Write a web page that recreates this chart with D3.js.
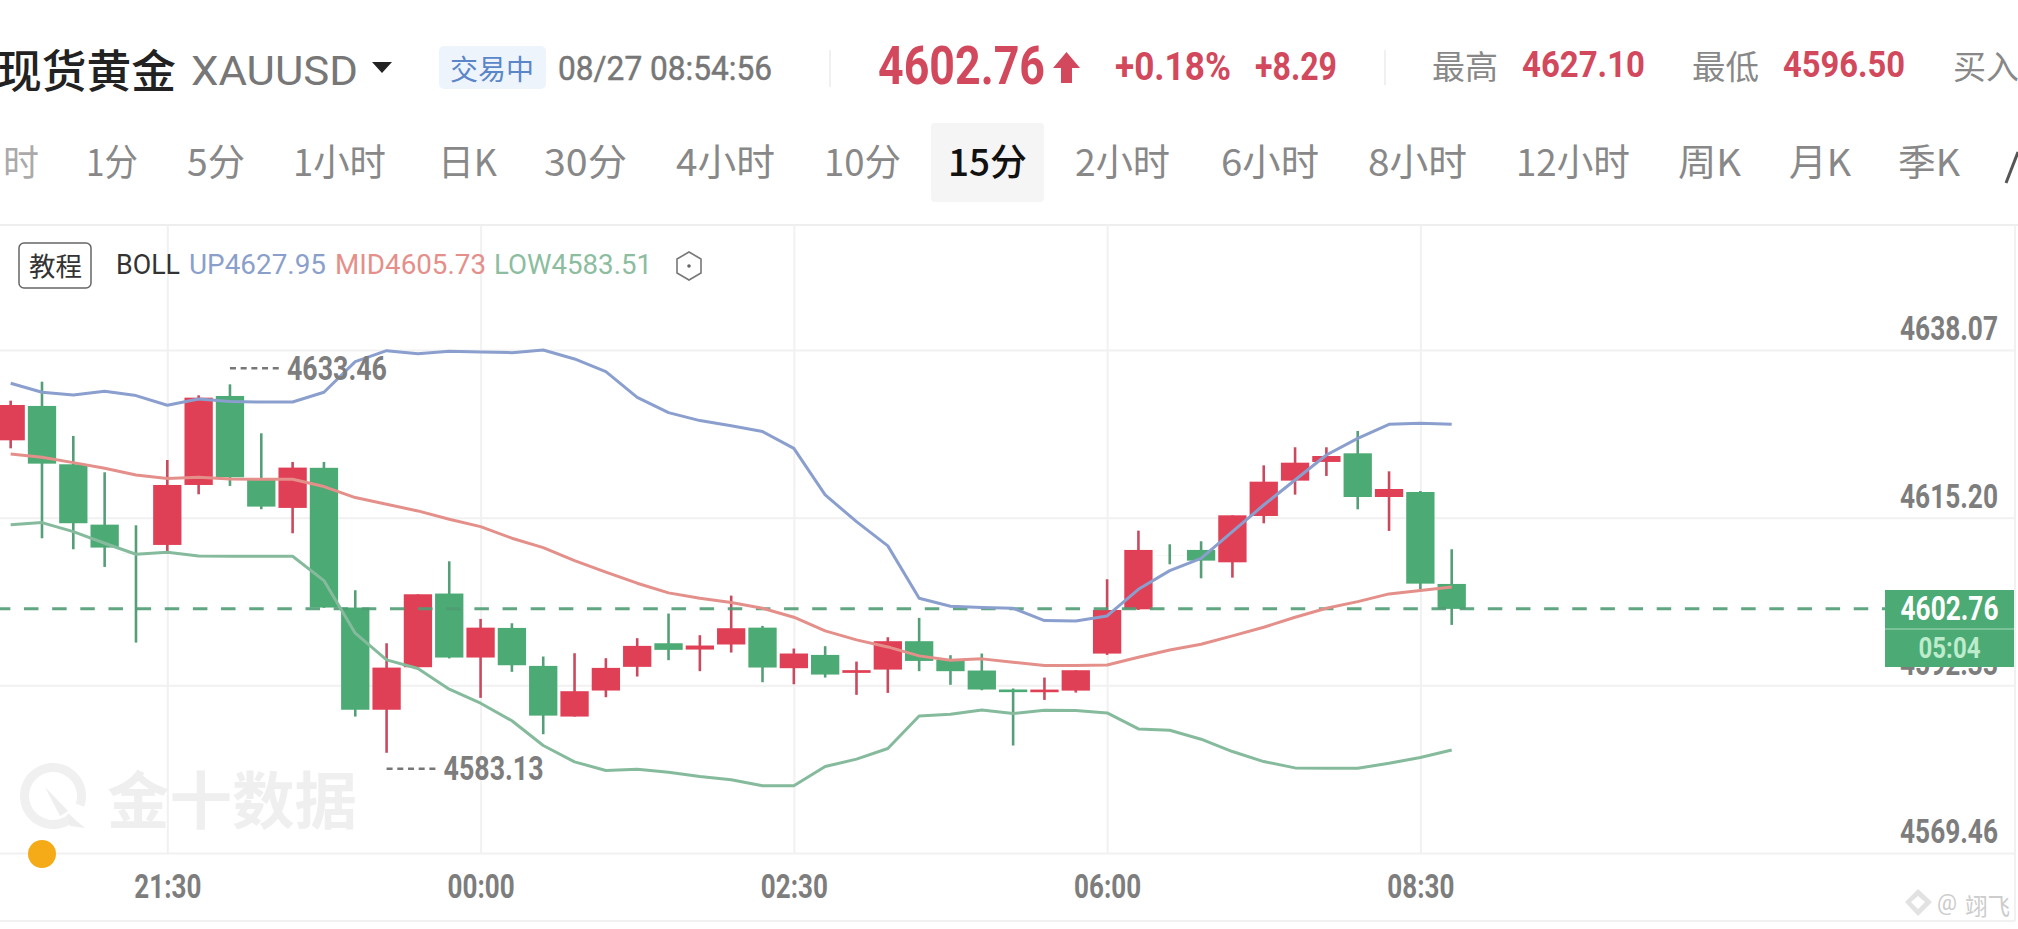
<!DOCTYPE html>
<meta charset="utf-8">
<style>
* { margin: 0; padding: 0; }
body { background: #fff; overflow: hidden; }
svg { display: block; }
.num { font-family: "Liberation Sans Narrow", "Roboto", sans-serif; }
.cjk { font-family: "Liberation Sans Narrow", "Noto Sans CJK SC", sans-serif; }
.axis path { display: none; }
.axis line { stroke: #f1f1f1; stroke-width: 2; }
.axis text { fill: #7d7d7d; font-size: 33px; font-weight: 700; font-family: "Liberation Sans Narrow", "Roboto", sans-serif; }
</style>
<body>
<script src="https://cdnjs.cloudflare.com/ajax/libs/d3/7.8.5/d3.min.js"></script>
<script>

// candles, 15 minute bars
var opens = [4625.75,4630.44,4622.48,4614.25,4610.35,4611.48,4619.66,4631.80,4620.35,4616.53,4622.00,4602.94,4589.00,4594.80,4604.85,4596.12,4600.16,4594.98,4588.07,4591.62,4594.85,4598.07,4597.21,4597.90,4600.20,4594.67,4596.48,4594.03,4594.48,4598.35,4595.80,4594.35,4591.76,4591.39,4591.61,4596.66,4602.70,4610.00,4610.80,4609.11,4615.43,4620.25,4622.80,4623.98,4618.02,4618.70,4606.16];
var closes = [4630.57,4622.57,4614.44,4611.12,4610.34,4619.66,4631.57,4620.71,4616.71,4622.03,4602.94,4589.00,4594.75,4604.75,4596.12,4600.20,4595.07,4588.20,4591.53,4594.71,4597.71,4597.17,4597.76,4600.12,4594.76,4596.67,4593.80,4594.40,4598.35,4595.66,4594.26,4591.76,4591.40,4591.75,4594.39,4602.61,4610.80,4609.99,4609.34,4615.52,4620.11,4622.70,4623.61,4618.02,4619.11,4606.20,4602.76];
var highs = [4631.16,4633.75,4626.35,4621.39,4614.16,4623.07,4631.89,4633.39,4626.71,4622.80,4622.80,4605.30,4598.07,4604.75,4609.25,4601.39,4600.80,4596.26,4596.71,4596.03,4598.76,4602.12,4599.17,4604.57,4600.44,4597.35,4597.67,4595.57,4598.89,4601.53,4596.44,4596.67,4591.90,4593.39,4594.39,4606.80,4613.43,4611.57,4611.98,4615.52,4622.34,4624.80,4624.80,4627.02,4621.52,4618.84,4610.89];
var lows = [4624.66,4612.39,4610.89,4608.48,4598.16,4610.57,4618.39,4619.53,4616.35,4613.07,4602.90,4588.07,4583.13,4594.80,4596.00,4590.62,4594.17,4585.66,4588.07,4590.71,4593.53,4595.76,4594.26,4596.80,4592.76,4592.48,4593.39,4591.03,4591.30,4594.26,4592.40,4591.66,4584.12,4590.34,4591.34,4596.48,4602.61,4608.84,4606.93,4607.02,4614.43,4618.34,4620.89,4616.34,4613.39,4605.43,4600.57];

// BOLL lines
var bollUp = [4633.53,4632.30,4631.94,4632.44,4631.85,4630.53,4631.39,4631.03,4630.98,4630.98,4632.30,4636.48,4637.98,4637.57,4637.89,4637.80,4637.71,4638.07,4636.85,4635.12,4631.62,4629.53,4628.44,4627.75,4626.94,4624.66,4618.30,4614.66,4611.35,4604.20,4603.12,4602.94,4602.84,4601.16,4601.11,4601.80,4605.43,4607.98,4609.66,4613.30,4616.93,4620.34,4623.75,4626.02,4627.93,4628.07,4627.95];
var bollMid = [4623.89,4623.44,4622.71,4621.94,4621.03,4620.53,4620.71,4620.48,4620.44,4620.44,4619.44,4617.94,4617.03,4616.12,4614.98,4613.98,4612.40,4611.12,4609.35,4607.76,4606.26,4604.94,4604.21,4603.62,4602.85,4601.62,4599.76,4598.53,4597.57,4596.35,4595.76,4595.94,4595.48,4595.02,4595.02,4595.11,4596.16,4597.16,4597.93,4599.07,4600.25,4601.61,4602.84,4603.75,4604.80,4605.25,4605.73];
var bollLow = [4614.25,4614.53,4613.30,4611.71,4610.21,4610.48,4609.98,4609.94,4609.94,4609.94,4606.62,4599.44,4595.80,4594.62,4591.80,4589.89,4587.50,4584.12,4581.89,4580.71,4580.89,4580.48,4579.89,4579.44,4578.62,4578.62,4581.26,4582.26,4583.71,4588.15,4588.39,4588.98,4588.48,4588.93,4588.89,4588.57,4586.39,4586.20,4584.98,4583.30,4581.93,4581.07,4581.02,4581.02,4581.70,4582.48,4583.51];

var yTicks = [4638.07,4615.20,4592.33,4569.46];
var xTickIndex = [5,15,25,35,45];
var xTickLabels = ["21:30","00:00","02:30","06:00","08:30"];

var lastPrice = 4602.76;
var highMark = {i: 7, value: 4633.46};
var lowMark = {i: 12, value: 4583.13};

var tabLabels = ["1分","5分","1小时","日K","30分","4小时","10分","15分","2小时","6小时","8小时","12小时","周K","月K","季K"];
var tabLeft =   [86,187,293,438,544,676,824,948,1075,1221,1368,1516,1678,1789,1898];
var tabRight =  [138,245,386,497,627,775,901,1027,1170,1319,1467,1630,1741,1851,1960];

var red = "#e04055", green = "#4caa74", quoteRed = "#d2485c";

var width = 2018, height = 929;

var svg = d3.select("body").append("svg")
	.attr("width", width)
	.attr("height", height);

var x = d3.scaleLinear().domain([0, 46]).range([10.67, 1451.7]);
var y = d3.scaleLinear().domain([4569.46, 4638.07]).range([853, 350]);

function label(str, px, py, size, color, opts) {
	opts = opts || {};
	var t = svg.append("text")
		.attr("class", opts.cls || "num")
		.attr("x", px)
		.attr("y", py)
		.attr("font-size", size)
		.attr("fill", color)
		.attr("font-weight", opts.weight || 400)
		.attr("text-anchor", opts.anchor || "start")
		.attr("dominant-baseline", "central")
		.text(str);
	if(opts.w) t.attr("textLength", opts.w).attr("lengthAdjust", "spacingAndGlyphs");
	return t;
}

// header row
label("现货黄金", -3, 68, 45, "#222", {cls: "cjk", weight: 500, w: 179});
label("XAUUSD", 191, 71, 40, "#777", {w: 167}).style("font-family", "Roboto");
svg.append("path").attr("d", "M372,62L392,62L382,73Z").attr("fill", "#222");

svg.append("rect").attr("x", 439).attr("y", 46).attr("width", 107).attr("height", 43).attr("rx", 5).attr("fill", "#eef4fc");
label("交易中", 450, 68, 28, "#5b86c8", {cls: "cjk", w: 84});
label("08/27 08:54:56", 558, 68, 34, "#777", {w: 214}).attr("stroke", "#777").attr("stroke-width", 0.5);

svg.append("line").attr("x1", 830).attr("x2", 830).attr("y1", 50).attr("y2", 87).attr("stroke", "#f0f0f0").attr("stroke-width", 2);
label("4602.76", 878, 66, 53, quoteRed, {weight: 700, w: 167});
svg.append("path").attr("d", "M1066.5,52L1080,68L1072,68L1072,83L1061,83L1061,68L1053,68Z").attr("fill", quoteRed);
label("+0.18%", 1115, 67, 38, quoteRed, {weight: 700, w: 116});
label("+8.29", 1255, 67, 38, quoteRed, {weight: 700, w: 82});
svg.append("line").attr("x1", 1385).attr("x2", 1385).attr("y1", 50).attr("y2", 85).attr("stroke", "#f0f0f0").attr("stroke-width", 2);
label("最高", 1432, 65, 33, "#888", {cls: "cjk", w: 66});
label("4627.10", 1522, 65, 36, quoteRed, {weight: 700, w: 123});
label("最低", 1692, 65, 33, "#888", {cls: "cjk", w: 67});
label("4596.50", 1783, 65, 36, quoteRed, {weight: 700, w: 122});
label("买入", 1953, 65, 33, "#888", {cls: "cjk"});

// period tabs
svg.append("rect").attr("x", 931).attr("y", 123).attr("width", 113).attr("height", 79).attr("rx", 4).attr("fill", "#f5f5f5");
label("时", 39, 160, 36, "#aaa", {cls: "cjk", anchor: "end"});
tabLabels.forEach(function(t, i) {
	var on = t == "15分";
	label(t, tabLeft[i], 160, 37, on ? "#111" : "#888", {cls: "cjk", weight: on ? 500 : 400, w: tabRight[i] - tabLeft[i]});
});
svg.append("path").attr("d", "M2006,183L2018,152").attr("stroke", "#555").attr("stroke-width", 3).attr("fill", "none");

// frame
svg.append("line").attr("x1", 0).attr("x2", width).attr("y1", 225).attr("y2", 225).attr("stroke", "#eee").attr("stroke-width", 2);
svg.append("line").attr("x1", 0).attr("x2", 2015).attr("y1", 921).attr("y2", 921).attr("stroke", "#f1f1f1").attr("stroke-width", 2);
svg.append("line").attr("x1", 2015).attr("x2", 2015).attr("y1", 225).attr("y2", 921).attr("stroke", "#f1f1f1").attr("stroke-width", 2);

// axes with their grid
var yAxis = d3.axisRight(y).tickValues(yTicks).tickSize(2015).tickFormat(d3.format(".2f"));
var yG = svg.append("g").attr("class", "axis").call(yAxis);
yG.selectAll("text").attr("x", 1998).attr("dy", null).attr("y", -22).attr("text-anchor", "end").attr("dominant-baseline", "central").attr("textLength", 98).attr("lengthAdjust", "spacingAndGlyphs");

var xAxis = d3.axisBottom(x).tickValues(xTickIndex).tickSize(-628).tickFormat(function(d, i) { return xTickLabels[i]; });
var xG = svg.append("g").attr("class", "axis").attr("transform", "translate(0,853)").call(xAxis);
xG.selectAll("text").attr("y", 33).attr("dy", null).attr("dominant-baseline", "central").attr("textLength", 67).attr("lengthAdjust", "spacingAndGlyphs");

// watermark
svg.append("path")
	.attr("d", d3.arc()({innerRadius: 24, outerRadius: 33, startAngle: 2.4, endAngle: 2 * Math.PI + 1.9}))
	.attr("transform", "translate(53,796)")
	.attr("fill", "#f0f0f0");
svg.append("path").attr("d", "M45,787L68,811L60,816Z M67,813L85,828L70,826Z").attr("fill", "#eee");
label("金十数据", 107, 797, 62, "#efefef", {cls: "cjk", weight: 700, w: 250});
svg.append("circle").attr("cx", 42).attr("cy", 854).attr("r", 14).attr("fill", "#f5ab18");

// candles
var candles = opens.map(function(o, i) { return {i: i, o: o, c: closes[i], h: highs[i], l: lows[i]}; });
var bodyW = 28.3;
var g = svg.append("g").selectAll("g").data(candles).enter().append("g");
g.append("line")
	.attr("x1", function(d) { return x(d.i); })
	.attr("x2", function(d) { return x(d.i); })
	.attr("y1", function(d) { return y(d.h); })
	.attr("y2", function(d) { return y(d.l); })
	.attr("stroke", function(d) { return d.c >= d.o ? "#c94a5e" : "#559f78"; })
	.attr("stroke-width", 2.6);
g.append("rect")
	.attr("x", function(d) { return x(d.i) - bodyW / 2; })
	.attr("y", function(d) { return y(Math.max(d.o, d.c)); })
	.attr("width", bodyW)
	.attr("height", function(d) { return Math.abs(y(d.o) - y(d.c)); })
	.attr("fill", function(d) { return d.c >= d.o ? red : green; });

// last price line
svg.append("line")
	.attr("x1", 0).attr("x2", 1885)
	.attr("y1", y(lastPrice)).attr("y2", y(lastPrice))
	.attr("stroke", "#4f9c74")
	.attr("stroke-width", 3)
	.attr("stroke-opacity", 0.9)
	.attr("stroke-dasharray", "14.5 13.65")
	.attr("stroke-dashoffset", 4.15);

// BOLL
var line = d3.line().x(function(d, i) { return x(i); }).y(function(d) { return y(d); });
[[bollUp, "#8a9fce"], [bollMid, "#e48f8a"], [bollLow, "#85bb9c"]].forEach(function(s) {
	svg.append("path")
		.attr("d", line(s[0]))
		.attr("fill", "none")
		.attr("stroke", s[1])
		.attr("stroke-width", 3)
		.attr("stroke-linejoin", "round");
});

// high and low marks
function mark(m, offset) {
	var my = offset > 0 ? y(lows[m.i]) : y(highs[m.i]);
	my += offset;
	svg.append("line")
		.attr("x1", x(m.i)).attr("x2", x(m.i) + 52)
		.attr("y1", my).attr("y2", my)
		.attr("stroke", "#777").attr("stroke-width", 2.4)
		.attr("stroke-dasharray", "6 4.7");
	label(d3.format(".2f")(m.value), x(m.i) + 57, my, 33, "#7d7d7d", {weight: 700, w: 100});
}
mark(highMark, -16);
mark(lowMark, 16);

// legend
svg.append("rect").attr("x", 19).attr("y", 243).attr("width", 72).attr("height", 45).attr("rx", 5).attr("fill", "#fff").attr("stroke", "#666").attr("stroke-width", 1.5);
label("教程", 29, 264, 26, "#333", {cls: "cjk", w: 53});
label("BOLL", 116, 264, 28, "#333", {w: 64});
label("UP4627.95", 189, 264, 28, "#8b9fcb", {w: 137});
label("MID4605.73", 335, 264, 28, "#e58f8a", {w: 151});
label("LOW4583.51", 494, 264, 28, "#8cbd9f", {w: 158});
svg.append("path").attr("d", "M689,252L701,259L701,273L689,280L677,273L677,259Z").attr("fill", "none").attr("stroke", "#777").attr("stroke-width", 1.6);
svg.append("circle").attr("cx", 689).attr("cy", 266).attr("r", 1.8).attr("fill", "#666");

// price tag
svg.append("rect").attr("x", 1885).attr("y", 590).attr("width", 129).attr("height", 77).attr("fill", green);
svg.append("line").attr("x1", 1885).attr("x2", 2014).attr("y1", 629).attr("y2", 629).attr("stroke", "#a8dcbc").attr("stroke-width", 1);
label(d3.format(".2f")(lastPrice), 1949.5, 608, 33, "#fff", {weight: 700, anchor: "middle", w: 98});
label("05:04", 1949.5, 647, 30, "#bdeccd", {weight: 700, anchor: "middle", w: 62});

// corner credit
svg.append("path").attr("d", "M1918,889L1932,902L1918,916L1905,902Z M1918,896L1925,902L1918,909L1911,902Z").attr("fill", "#e2e2e2").attr("fill-rule", "evenodd");
label("@", 1937, 902, 22, "#ccc", {w: 20}).style("font-family", "Roboto");
label("翊飞", 1965, 904, 24, "#ccc", {cls: "cjk", w: 45});

</script>
</body>
